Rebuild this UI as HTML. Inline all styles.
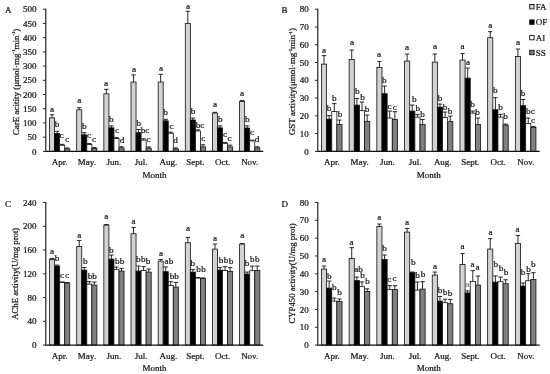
<!DOCTYPE html>
<html><head><meta charset="utf-8"><title>Figure</title>
<style>html,body{margin:0;padding:0;background:#fff}svg{display:block}</style>
</head><body>
<svg width="550" height="374" viewBox="0 0 550 374" font-family='"Liberation Serif", serif' font-size="9.0" fill="#111">
<style>text{stroke:#111;stroke-width:0.22px}</style>
<rect width="550" height="374" fill="#fff"/>
<g text-anchor="middle" font-size="9.2"><text x="52.00" y="111.90">a</text>
<text x="57.00" y="127.30">b</text>
<text x="61.60" y="137.50">c</text>
<text x="67.00" y="141.90">c</text>
<text x="79.40" y="102.90">a</text>
<text x="84.40" y="128.90">b</text>
<text x="89.00" y="137.90">c</text>
<text x="94.00" y="142.30">c</text>
<text x="106.00" y="86.30">a</text>
<text x="111.40" y="121.50">b</text>
<text x="117.00" y="133.30">c</text>
<text x="122.00" y="143.30">d</text>
<text x="134.00" y="71.90">a</text>
<text x="138.80" y="126.20">b</text>
<text x="145.00" y="132.50">bc</text>
<text x="148.60" y="141.90">c</text>
<text x="161.00" y="70.70">a</text>
<text x="165.60" y="114.70">b</text>
<text x="171.60" y="128.90">c</text>
<text x="175.60" y="142.50">d</text>
<text x="188.00" y="8.90">a</text>
<text x="193.00" y="114.30">b</text>
<text x="200.00" y="127.90">bc</text>
<text x="203.30" y="140.90">c</text>
<text x="215.00" y="106.90">a</text>
<text x="220.40" y="121.50">b</text>
<text x="225.00" y="136.90">c</text>
<text x="229.60" y="140.90">c</text>
<text x="242.00" y="95.70">a</text>
<text x="247.40" y="121.90">b</text>
<text x="252.00" y="135.40">c</text>
<text x="257.00" y="141.90">d</text></g>
<g stroke="#111" stroke-width="0.8"><rect x="49.55" y="117.85" width="5.05" height="33.55" fill="#d2d2d2"/>
<rect x="54.60" y="133.45" width="5.05" height="17.95" fill="#000000"/>
<rect x="59.65" y="145.30" width="5.05" height="6.10" fill="#ffffff"/>
<rect x="64.70" y="148.90" width="5.05" height="2.50" fill="#808080"/>
<rect x="76.70" y="109.85" width="5.05" height="41.55" fill="#d2d2d2"/>
<rect x="81.75" y="134.85" width="5.05" height="16.55" fill="#000000"/>
<rect x="86.80" y="144.50" width="5.05" height="6.90" fill="#ffffff"/>
<rect x="91.85" y="148.50" width="5.05" height="2.90" fill="#808080"/>
<rect x="103.85" y="93.85" width="5.05" height="57.55" fill="#d2d2d2"/>
<rect x="108.90" y="127.85" width="5.05" height="23.55" fill="#000000"/>
<rect x="113.95" y="138.50" width="5.05" height="12.90" fill="#ffffff"/>
<rect x="119.00" y="147.90" width="5.05" height="3.50" fill="#808080"/>
<rect x="131.00" y="82.05" width="5.05" height="69.35" fill="#d2d2d2"/>
<rect x="136.05" y="132.65" width="5.05" height="18.75" fill="#000000"/>
<rect x="141.10" y="140.10" width="5.05" height="11.30" fill="#ffffff"/>
<rect x="146.15" y="148.10" width="5.05" height="3.30" fill="#808080"/>
<rect x="158.15" y="82.05" width="5.05" height="69.35" fill="#d2d2d2"/>
<rect x="163.20" y="120.85" width="5.05" height="30.55" fill="#000000"/>
<rect x="168.25" y="133.30" width="5.05" height="18.10" fill="#ffffff"/>
<rect x="173.30" y="148.90" width="5.05" height="2.50" fill="#808080"/>
<rect x="185.30" y="23.45" width="5.05" height="127.95" fill="#d2d2d2"/>
<rect x="190.35" y="120.05" width="5.05" height="31.35" fill="#000000"/>
<rect x="195.40" y="131.00" width="5.05" height="20.40" fill="#ffffff"/>
<rect x="200.45" y="146.90" width="5.05" height="4.50" fill="#808080"/>
<rect x="212.45" y="113.05" width="5.05" height="38.35" fill="#d2d2d2"/>
<rect x="217.50" y="127.85" width="5.05" height="23.55" fill="#000000"/>
<rect x="222.55" y="143.30" width="5.05" height="8.10" fill="#ffffff"/>
<rect x="227.60" y="146.90" width="5.05" height="4.50" fill="#808080"/>
<rect x="239.60" y="101.45" width="5.05" height="49.95" fill="#d2d2d2"/>
<rect x="244.65" y="128.05" width="5.05" height="23.35" fill="#000000"/>
<rect x="249.70" y="140.90" width="5.05" height="10.50" fill="#ffffff"/>
<rect x="254.75" y="147.90" width="5.05" height="3.50" fill="#808080"/></g>
<g stroke="#111" stroke-width="0.9" fill="none"><path d="M52.07 117.85V114.70M49.87 114.70H54.27"/>
<path d="M57.12 133.45V131.30M54.92 131.30H59.32"/>
<path d="M62.17 145.30V144.35M59.97 144.35H64.38"/>
<path d="M67.22 148.90V147.95M65.02 147.95H69.42"/>
<path d="M79.22 109.85V107.70M77.02 107.70H81.42"/>
<path d="M84.27 134.85V132.70M82.07 132.70H86.47"/>
<path d="M89.32 144.50V143.55M87.12 143.55H91.52"/>
<path d="M94.38 148.50V147.55M92.17 147.55H96.58"/>
<path d="M106.38 93.85V89.30M104.17 89.30H108.58"/>
<path d="M111.42 127.85V125.90M109.22 125.90H113.62"/>
<path d="M116.47 138.50V137.55M114.27 137.55H118.67"/>
<path d="M121.53 147.90V146.75M119.33 146.75H123.73"/>
<path d="M133.53 82.05V74.90M131.33 74.90H135.72"/>
<path d="M138.58 132.65V129.50M136.38 129.50H140.78"/>
<path d="M143.62 140.10V138.75M141.43 138.75H145.82"/>
<path d="M148.68 148.10V146.95M146.48 146.95H150.88"/>
<path d="M160.67 82.05V74.30M158.47 74.30H162.87"/>
<path d="M165.72 120.85V119.30M163.53 119.30H167.92"/>
<path d="M170.77 133.30V132.15M168.57 132.15H172.97"/>
<path d="M175.82 148.90V147.95M173.62 147.95H178.02"/>
<path d="M187.83 23.45V11.30M185.63 11.30H190.03"/>
<path d="M192.88 120.05V118.10M190.68 118.10H195.08"/>
<path d="M197.93 131.00V129.85M195.73 129.85H200.12"/>
<path d="M202.98 146.90V144.75M200.78 144.75H205.18"/>
<path d="M214.97 113.05V112.30M212.78 112.30H217.17"/>
<path d="M220.03 127.85V125.90M217.83 125.90H222.22"/>
<path d="M225.07 143.30V142.55M222.88 142.55H227.27"/>
<path d="M230.12 146.90V145.15M227.93 145.15H232.32"/>
<path d="M242.12 101.45V100.50M239.92 100.50H244.32"/>
<path d="M247.17 128.05V125.90M244.97 125.90H249.37"/>
<path d="M252.22 140.90V140.15M250.02 140.15H254.42"/>
<path d="M257.27 147.90V146.75M255.07 146.75H259.47"/><path d="M45.80 8.80V151.40H263.30" stroke-width="1.1" fill="none"/>
<path d="M43.00 151.40H45.80"/>
<path d="M43.00 137.18H45.80"/>
<path d="M43.00 122.96H45.80"/>
<path d="M43.00 108.74H45.80"/>
<path d="M43.00 94.52H45.80"/>
<path d="M43.00 80.30H45.80"/>
<path d="M43.00 66.08H45.80"/>
<path d="M43.00 51.86H45.80"/>
<path d="M43.00 37.64H45.80"/>
<path d="M43.00 23.42H45.80"/>
<path d="M43.00 9.20H45.80"/></g>
<g text-anchor="end"><text x="36.50" y="154.55">0</text>
<text x="36.50" y="140.33">50</text>
<text x="36.50" y="126.11">100</text>
<text x="36.50" y="111.89">150</text>
<text x="36.50" y="97.67">200</text>
<text x="36.50" y="83.45">250</text>
<text x="36.50" y="69.23">300</text>
<text x="36.50" y="55.01">350</text>
<text x="36.50" y="40.79">400</text>
<text x="36.50" y="26.57">450</text>
<text x="36.50" y="12.35">500</text></g>
<g text-anchor="middle"><text x="59.67" y="165.40">Apr.</text>
<text x="86.82" y="165.40">May.</text>
<text x="113.97" y="165.40">Jun.</text>
<text x="141.12" y="165.40">Jul.</text>
<text x="168.27" y="165.40">Aug.</text>
<text x="195.43" y="165.40">Sept.</text>
<text x="222.57" y="165.40">Oct.</text>
<text x="249.72" y="165.40">Nov.</text>
<text x="154.55" y="177.90">Month</text></g>
<text x="4.90" y="12.80">A</text>
<g text-anchor="middle" font-size="9.2"><text x="324.00" y="53.30">a</text>
<text x="329.00" y="110.90">b</text>
<text x="334.40" y="100.90">b</text>
<text x="340.00" y="116.50">b</text>
<text x="352.00" y="45.30">a</text>
<text x="357.40" y="94.30">b</text>
<text x="362.60" y="99.90">b</text>
<text x="367.00" y="111.90">b</text>
<text x="379.00" y="56.90">a</text>
<text x="384.40" y="83.40">b</text>
<text x="389.60" y="108.90">c</text>
<text x="394.90" y="110.40">c</text>
<text x="407.00" y="49.70">a</text>
<text x="414.20" y="101.70">b</text>
<text x="417.90" y="110.80">b</text>
<text x="422.60" y="116.60">b</text>
<text x="435.00" y="48.70">a</text>
<text x="440.00" y="100.90">b</text>
<text x="445.00" y="109.50">b</text>
<text x="450.00" y="113.90">b</text>
<text x="462.60" y="48.70">a</text>
<text x="468.00" y="65.30">a</text>
<text x="472.60" y="106.90">b</text>
<text x="477.60" y="114.90">b</text>
<text x="490.40" y="27.70">a</text>
<text x="495.40" y="93.30">b</text>
<text x="500.60" y="109.90">b</text>
<text x="505.60" y="118.90">b</text>
<text x="518.00" y="44.70">a</text>
<text x="523.00" y="95.90">b</text>
<text x="530.40" y="113.90">bc</text>
<text x="533.00" y="122.50">c</text></g>
<g stroke="#111" stroke-width="0.8"><rect x="321.45" y="64.10" width="5.15" height="87.30" fill="#d2d2d2"/>
<rect x="326.60" y="119.10" width="5.15" height="32.30" fill="#000000"/>
<rect x="331.75" y="111.50" width="5.15" height="39.90" fill="#ffffff"/>
<rect x="336.90" y="124.50" width="5.15" height="26.90" fill="#808080"/>
<rect x="349.15" y="59.50" width="5.15" height="91.90" fill="#d2d2d2"/>
<rect x="354.30" y="105.10" width="5.15" height="46.30" fill="#000000"/>
<rect x="359.45" y="110.70" width="5.15" height="40.70" fill="#ffffff"/>
<rect x="364.60" y="121.50" width="5.15" height="29.90" fill="#808080"/>
<rect x="376.85" y="67.50" width="5.15" height="83.90" fill="#d2d2d2"/>
<rect x="382.00" y="93.70" width="5.15" height="57.70" fill="#000000"/>
<rect x="387.15" y="118.10" width="5.15" height="33.30" fill="#ffffff"/>
<rect x="392.30" y="119.50" width="5.15" height="31.90" fill="#808080"/>
<rect x="404.55" y="61.10" width="5.15" height="90.30" fill="#d2d2d2"/>
<rect x="409.70" y="111.10" width="5.15" height="40.30" fill="#000000"/>
<rect x="414.85" y="117.10" width="5.15" height="34.30" fill="#ffffff"/>
<rect x="420.00" y="124.50" width="5.15" height="26.90" fill="#808080"/>
<rect x="432.25" y="62.10" width="5.15" height="89.30" fill="#d2d2d2"/>
<rect x="437.40" y="107.10" width="5.15" height="44.30" fill="#000000"/>
<rect x="442.55" y="117.50" width="5.15" height="33.90" fill="#ffffff"/>
<rect x="447.70" y="121.50" width="5.15" height="29.90" fill="#808080"/>
<rect x="459.95" y="60.10" width="5.15" height="91.30" fill="#d2d2d2"/>
<rect x="465.10" y="78.10" width="5.15" height="73.30" fill="#000000"/>
<rect x="470.25" y="113.10" width="5.15" height="38.30" fill="#ffffff"/>
<rect x="475.40" y="124.50" width="5.15" height="26.90" fill="#808080"/>
<rect x="487.65" y="37.70" width="5.15" height="113.70" fill="#d2d2d2"/>
<rect x="492.80" y="109.70" width="5.15" height="41.70" fill="#000000"/>
<rect x="497.95" y="117.10" width="5.15" height="34.30" fill="#ffffff"/>
<rect x="503.10" y="125.10" width="5.15" height="26.30" fill="#808080"/>
<rect x="515.35" y="56.50" width="5.15" height="94.90" fill="#d2d2d2"/>
<rect x="520.50" y="105.70" width="5.15" height="45.70" fill="#000000"/>
<rect x="525.65" y="123.50" width="5.15" height="27.90" fill="#ffffff"/>
<rect x="530.80" y="127.50" width="5.15" height="23.90" fill="#808080"/></g>
<g stroke="#111" stroke-width="0.9" fill="none"><path d="M324.02 64.10V55.65M321.82 55.65H326.22"/>
<path d="M329.17 119.10V115.65M326.97 115.65H331.37"/>
<path d="M334.32 111.50V103.65M332.12 103.65H336.52"/>
<path d="M339.47 124.50V120.05M337.27 120.05H341.67"/>
<path d="M351.72 59.50V50.05M349.52 50.05H353.92"/>
<path d="M356.87 105.10V98.45M354.67 98.45H359.07"/>
<path d="M362.02 110.70V102.05M359.82 102.05H364.22"/>
<path d="M367.17 121.50V115.05M364.97 115.05H369.37"/>
<path d="M379.42 67.50V61.45M377.22 61.45H381.62"/>
<path d="M384.57 93.70V86.05M382.37 86.05H386.77"/>
<path d="M389.72 118.10V111.05M387.52 111.05H391.92"/>
<path d="M394.87 119.50V111.65M392.67 111.65H397.07"/>
<path d="M407.12 61.10V54.05M404.92 54.05H409.32"/>
<path d="M412.27 111.10V105.05M410.07 105.05H414.47"/>
<path d="M417.42 117.10V114.45M415.22 114.45H419.62"/>
<path d="M422.57 124.50V119.45M420.37 119.45H424.77"/>
<path d="M434.82 62.10V54.05M432.62 54.05H437.02"/>
<path d="M439.97 107.10V104.05M437.77 104.05H442.17"/>
<path d="M445.12 117.50V112.05M442.93 112.05H447.32"/>
<path d="M450.27 121.50V116.05M448.07 116.05H452.47"/>
<path d="M462.52 60.10V53.65M460.32 53.65H464.72"/>
<path d="M467.67 78.10V68.05M465.47 68.05H469.87"/>
<path d="M472.82 113.10V111.05M470.62 111.05H475.02"/>
<path d="M477.97 124.50V118.05M475.77 118.05H480.17"/>
<path d="M490.22 37.70V31.65M488.02 31.65H492.42"/>
<path d="M495.37 109.70V97.65M493.17 97.65H497.57"/>
<path d="M500.52 117.10V114.35M498.32 114.35H502.72"/>
<path d="M505.67 125.10V124.05M503.47 124.05H507.87"/>
<path d="M517.93 56.50V49.05M515.73 49.05H520.13"/>
<path d="M523.08 105.70V99.45M520.88 99.45H525.28"/>
<path d="M528.23 123.50V118.05M526.02 118.05H530.43"/>
<path d="M533.38 127.50V126.45M531.18 126.45H535.58"/><path d="M317.80 8.80V151.40H539.70" stroke-width="1.1" fill="none"/>
<path d="M315.00 151.40H317.80"/>
<path d="M315.00 133.62H317.80"/>
<path d="M315.00 115.85H317.80"/>
<path d="M315.00 98.07H317.80"/>
<path d="M315.00 80.30H317.80"/>
<path d="M315.00 62.52H317.80"/>
<path d="M315.00 44.75H317.80"/>
<path d="M315.00 26.97H317.80"/>
<path d="M315.00 9.20H317.80"/></g>
<g text-anchor="end"><text x="308.70" y="154.55">0</text>
<text x="308.70" y="136.78">10</text>
<text x="308.70" y="119.00">20</text>
<text x="308.70" y="101.22">30</text>
<text x="308.70" y="83.45">40</text>
<text x="308.70" y="65.67">50</text>
<text x="308.70" y="47.90">60</text>
<text x="308.70" y="30.12">70</text>
<text x="308.70" y="12.35">80</text></g>
<g text-anchor="middle"><text x="331.95" y="165.40">Apr.</text>
<text x="359.65" y="165.40">May.</text>
<text x="387.35" y="165.40">Jun.</text>
<text x="415.05" y="165.40">Jul.</text>
<text x="442.75" y="165.40">Aug.</text>
<text x="470.45" y="165.40">Sept.</text>
<text x="498.15" y="165.40">Oct.</text>
<text x="525.85" y="165.40">Nov.</text>
<text x="428.75" y="177.90">Month</text></g>
<text x="281.50" y="13.10">B</text>
<g text-anchor="middle" font-size="9.2"><text x="52.00" y="253.70">a</text>
<text x="57.00" y="260.55">b</text>
<text x="62.00" y="277.55">c</text>
<text x="67.00" y="277.55">c</text>
<text x="79.40" y="238.30">a</text>
<text x="85.40" y="263.55">b</text>
<text x="90.00" y="278.55">b</text>
<text x="94.60" y="278.55">b</text>
<text x="106.40" y="219.30">a</text>
<text x="111.40" y="252.95">b</text>
<text x="117.30" y="264.45">b</text>
<text x="122.10" y="264.45">b</text>
<text x="133.60" y="224.30">a</text>
<text x="138.40" y="261.95">b</text>
<text x="143.40" y="261.95">b</text>
<text x="148.00" y="263.55">b</text>
<text x="161.00" y="256.20">a</text>
<text x="168.90" y="263.55">ab</text>
<text x="172.00" y="278.55">b</text>
<text x="176.60" y="278.55">b</text>
<text x="188.00" y="231.30">a</text>
<text x="192.80" y="265.55">b</text>
<text x="198.60" y="271.95">b</text>
<text x="203.60" y="271.95">b</text>
<text x="215.00" y="241.30">a</text>
<text x="221.00" y="262.75">b</text>
<text x="226.10" y="263.15">b</text>
<text x="231.10" y="263.95">b</text>
<text x="242.40" y="238.30">a</text>
<text x="247.00" y="265.55">b</text>
<text x="252.40" y="262.15">b</text>
<text x="257.40" y="262.15">b</text></g>
<g stroke="#111" stroke-width="0.8"><rect x="49.55" y="259.50" width="5.05" height="85.60" fill="#d2d2d2"/>
<rect x="54.60" y="266.10" width="5.05" height="79.00" fill="#000000"/>
<rect x="59.65" y="282.50" width="5.05" height="62.60" fill="#ffffff"/>
<rect x="64.70" y="283.10" width="5.05" height="62.00" fill="#808080"/>
<rect x="76.70" y="246.50" width="5.05" height="98.60" fill="#d2d2d2"/>
<rect x="81.75" y="270.10" width="5.05" height="75.00" fill="#000000"/>
<rect x="86.80" y="284.10" width="5.05" height="61.00" fill="#ffffff"/>
<rect x="91.85" y="285.10" width="5.05" height="60.00" fill="#808080"/>
<rect x="103.85" y="225.10" width="5.05" height="120.00" fill="#d2d2d2"/>
<rect x="108.90" y="259.10" width="5.05" height="86.00" fill="#000000"/>
<rect x="113.95" y="269.70" width="5.05" height="75.40" fill="#ffffff"/>
<rect x="119.00" y="271.10" width="5.05" height="74.00" fill="#808080"/>
<rect x="131.00" y="233.70" width="5.05" height="111.40" fill="#d2d2d2"/>
<rect x="136.05" y="271.10" width="5.05" height="74.00" fill="#000000"/>
<rect x="141.10" y="270.50" width="5.05" height="74.60" fill="#ffffff"/>
<rect x="146.15" y="272.10" width="5.05" height="73.00" fill="#808080"/>
<rect x="158.15" y="261.10" width="5.05" height="84.00" fill="#d2d2d2"/>
<rect x="163.20" y="271.70" width="5.05" height="73.40" fill="#000000"/>
<rect x="168.25" y="285.50" width="5.05" height="59.60" fill="#ffffff"/>
<rect x="173.30" y="287.10" width="5.05" height="58.00" fill="#808080"/>
<rect x="185.30" y="242.70" width="5.05" height="102.40" fill="#d2d2d2"/>
<rect x="190.35" y="272.10" width="5.05" height="73.00" fill="#000000"/>
<rect x="195.40" y="278.10" width="5.05" height="67.00" fill="#ffffff"/>
<rect x="200.45" y="278.50" width="5.05" height="66.60" fill="#808080"/>
<rect x="212.45" y="249.10" width="5.05" height="96.00" fill="#d2d2d2"/>
<rect x="217.50" y="270.10" width="5.05" height="75.00" fill="#000000"/>
<rect x="222.55" y="270.50" width="5.05" height="74.60" fill="#ffffff"/>
<rect x="227.60" y="271.50" width="5.05" height="73.60" fill="#808080"/>
<rect x="239.60" y="244.10" width="5.05" height="101.00" fill="#d2d2d2"/>
<rect x="244.65" y="274.10" width="5.05" height="71.00" fill="#000000"/>
<rect x="249.70" y="270.70" width="5.05" height="74.40" fill="#ffffff"/>
<rect x="254.75" y="270.50" width="5.05" height="74.60" fill="#808080"/></g>
<g stroke="#111" stroke-width="0.9" fill="none"><path d="M52.07 259.50V258.45M49.87 258.45H54.27"/>
<path d="M57.12 266.10V265.05M54.92 265.05H59.32"/>
<path d="M62.17 282.50V281.95M59.97 281.95H64.38"/>
<path d="M67.22 283.10V282.55M65.02 282.55H69.42"/>
<path d="M79.22 246.50V240.45M77.02 240.45H81.42"/>
<path d="M84.27 270.10V267.45M82.07 267.45H86.47"/>
<path d="M89.32 284.10V281.65M87.12 281.65H91.52"/>
<path d="M94.38 285.10V282.05M92.17 282.05H96.58"/>
<path d="M106.38 225.10V224.55M104.17 224.55H108.58"/>
<path d="M111.42 259.10V255.05M109.22 255.05H113.62"/>
<path d="M116.47 269.70V267.05M114.27 267.05H118.67"/>
<path d="M121.53 271.10V268.45M119.33 268.45H123.73"/>
<path d="M133.53 233.70V227.45M131.33 227.45H135.72"/>
<path d="M138.58 271.10V266.05M136.38 266.05H140.78"/>
<path d="M143.62 270.50V266.65M141.43 266.65H145.82"/>
<path d="M148.68 272.10V269.05M146.48 269.05H150.88"/>
<path d="M160.67 261.10V259.55M158.47 259.55H162.87"/>
<path d="M165.72 271.70V266.95M163.53 266.95H167.92"/>
<path d="M170.77 285.50V281.65M168.57 281.65H172.97"/>
<path d="M175.82 287.10V282.45M173.62 282.45H178.02"/>
<path d="M187.83 242.70V237.45M185.63 237.45H190.03"/>
<path d="M192.88 272.10V269.45M190.68 269.45H195.08"/>
<path d="M197.93 278.10V277.55M195.73 277.55H200.12"/>
<path d="M202.98 278.50V277.95M200.78 277.95H205.18"/>
<path d="M214.97 249.10V244.05M212.78 244.05H217.17"/>
<path d="M220.03 270.10V267.65M217.83 267.65H222.22"/>
<path d="M225.07 270.50V266.65M222.88 266.65H227.27"/>
<path d="M230.12 271.50V267.65M227.93 267.65H232.32"/>
<path d="M242.12 244.10V243.45M239.92 243.45H244.32"/>
<path d="M247.17 274.10V272.05M244.97 272.05H249.37"/>
<path d="M252.22 270.70V266.05M250.02 266.05H254.42"/>
<path d="M257.27 270.50V266.05M255.07 266.05H259.47"/><path d="M45.80 202.10V345.10H263.30" stroke-width="1.1" fill="none"/>
<path d="M43.00 345.10H45.80"/>
<path d="M43.00 321.33H45.80"/>
<path d="M43.00 297.57H45.80"/>
<path d="M43.00 273.80H45.80"/>
<path d="M43.00 250.03H45.80"/>
<path d="M43.00 226.27H45.80"/>
<path d="M43.00 202.50H45.80"/></g>
<g text-anchor="end"><text x="36.50" y="348.25">0</text>
<text x="36.50" y="324.48">40</text>
<text x="36.50" y="300.72">80</text>
<text x="36.50" y="276.95">120</text>
<text x="36.50" y="253.18">160</text>
<text x="36.50" y="229.42">200</text>
<text x="36.50" y="205.65">240</text></g>
<g text-anchor="middle"><text x="59.67" y="358.50">Apr.</text>
<text x="86.82" y="358.50">May.</text>
<text x="113.97" y="358.50">Jun.</text>
<text x="141.12" y="358.50">Jul.</text>
<text x="168.27" y="358.50">Aug.</text>
<text x="195.43" y="358.50">Sept.</text>
<text x="222.57" y="358.50">Oct.</text>
<text x="249.72" y="358.50">Nov.</text>
<text x="154.55" y="370.80">Month</text></g>
<text x="5.00" y="206.70">C</text>
<g text-anchor="middle" font-size="9.2"><text x="324.00" y="262.30">a</text>
<text x="329.40" y="279.10">b</text>
<text x="334.40" y="289.70">b</text>
<text x="339.60" y="295.10">b</text>
<text x="351.60" y="244.90">a</text>
<text x="358.60" y="271.70">ab</text>
<text x="362.60" y="278.10">b</text>
<text x="367.60" y="283.90">b</text>
<text x="379.40" y="220.30">a</text>
<text x="384.60" y="251.10">b</text>
<text x="389.40" y="281.60">c</text>
<text x="394.60" y="280.70">c</text>
<text x="407.00" y="225.30">a</text>
<text x="413.40" y="265.10">b</text>
<text x="417.60" y="278.10">b</text>
<text x="423.00" y="277.30">b</text>
<text x="435.00" y="268.90">a</text>
<text x="440.00" y="292.70">b</text>
<text x="445.00" y="294.50">b</text>
<text x="450.00" y="295.60">b</text>
<text x="462.60" y="248.90">a</text>
<text x="467.60" y="286.70" fill="#888" style="stroke:#888">a</text>
<text x="472.60" y="266.70">a</text>
<text x="477.60" y="270.10">a</text>
<text x="490.60" y="235.30">a</text>
<text x="495.80" y="267.20">b</text>
<text x="501.00" y="271.10">b</text>
<text x="506.00" y="275.30">b</text>
<text x="517.60" y="231.70">a</text>
<text x="523.00" y="275.10">b</text>
<text x="528.60" y="271.80">b</text>
<text x="533.30" y="267.20">b</text></g>
<g stroke="#111" stroke-width="0.8"><rect x="321.45" y="269.10" width="5.15" height="76.00" fill="#d2d2d2"/>
<rect x="326.60" y="288.10" width="5.15" height="57.00" fill="#000000"/>
<rect x="331.75" y="301.10" width="5.15" height="44.00" fill="#ffffff"/>
<rect x="336.90" y="301.50" width="5.15" height="43.60" fill="#808080"/>
<rect x="349.15" y="258.50" width="5.15" height="86.60" fill="#d2d2d2"/>
<rect x="354.30" y="280.60" width="5.15" height="64.50" fill="#000000"/>
<rect x="359.45" y="286.70" width="5.15" height="58.40" fill="#ffffff"/>
<rect x="364.60" y="291.50" width="5.15" height="53.60" fill="#808080"/>
<rect x="376.85" y="226.50" width="5.15" height="118.60" fill="#d2d2d2"/>
<rect x="382.00" y="259.50" width="5.15" height="85.60" fill="#000000"/>
<rect x="387.15" y="289.50" width="5.15" height="55.60" fill="#ffffff"/>
<rect x="392.30" y="289.50" width="5.15" height="55.60" fill="#808080"/>
<rect x="404.55" y="232.10" width="5.15" height="113.00" fill="#d2d2d2"/>
<rect x="409.70" y="272.70" width="5.15" height="72.40" fill="#000000"/>
<rect x="414.85" y="290.10" width="5.15" height="55.00" fill="#ffffff"/>
<rect x="420.00" y="289.10" width="5.15" height="56.00" fill="#808080"/>
<rect x="432.25" y="275.10" width="5.15" height="70.00" fill="#d2d2d2"/>
<rect x="437.40" y="301.10" width="5.15" height="44.00" fill="#000000"/>
<rect x="442.55" y="302.70" width="5.15" height="42.40" fill="#ffffff"/>
<rect x="447.70" y="303.70" width="5.15" height="41.40" fill="#808080"/>
<rect x="459.95" y="264.50" width="5.15" height="80.60" fill="#d2d2d2"/>
<rect x="465.10" y="292.90" width="5.15" height="52.20" fill="#000000"/>
<rect x="470.25" y="281.50" width="5.15" height="63.60" fill="#ffffff"/>
<rect x="475.40" y="285.10" width="5.15" height="60.00" fill="#808080"/>
<rect x="487.65" y="249.10" width="5.15" height="96.00" fill="#d2d2d2"/>
<rect x="492.80" y="282.10" width="5.15" height="63.00" fill="#000000"/>
<rect x="497.95" y="281.70" width="5.15" height="63.40" fill="#ffffff"/>
<rect x="503.10" y="283.70" width="5.15" height="61.40" fill="#808080"/>
<rect x="515.35" y="243.50" width="5.15" height="101.60" fill="#d2d2d2"/>
<rect x="520.50" y="286.10" width="5.15" height="59.00" fill="#000000"/>
<rect x="525.65" y="280.70" width="5.15" height="64.40" fill="#ffffff"/>
<rect x="530.80" y="279.50" width="5.15" height="65.60" fill="#808080"/></g>
<g stroke="#111" stroke-width="0.9" fill="none"><path d="M324.02 269.10V266.05M321.82 266.05H326.22"/>
<path d="M329.17 288.10V281.05M326.97 281.05H331.37"/>
<path d="M334.32 301.10V298.05M332.12 298.05H336.52"/>
<path d="M339.47 301.50V299.05M337.27 299.05H341.67"/>
<path d="M351.72 258.50V247.65M349.52 247.65H353.92"/>
<path d="M356.87 280.60V277.05M354.67 277.05H359.07"/>
<path d="M362.02 286.70V281.95M359.82 281.95H364.22"/>
<path d="M367.17 291.50V288.85M364.97 288.85H369.37"/>
<path d="M379.42 226.50V224.05M377.22 224.05H381.62"/>
<path d="M384.57 259.50V255.05M382.37 255.05H386.77"/>
<path d="M389.72 289.50V285.65M387.52 285.65H391.92"/>
<path d="M394.87 289.50V285.65M392.67 285.65H397.07"/>
<path d="M407.12 232.10V228.45M404.92 228.45H409.32"/>
<path d="M412.27 272.70V272.05M410.07 272.05H414.47"/>
<path d="M417.42 290.10V282.05M415.22 282.05H419.62"/>
<path d="M422.57 289.10V281.65M420.37 281.65H424.77"/>
<path d="M434.82 275.10V272.05M432.62 272.05H437.02"/>
<path d="M439.97 301.10V296.45M437.77 296.45H442.17"/>
<path d="M445.12 302.70V299.25M442.93 299.25H447.32"/>
<path d="M450.27 303.70V299.45M448.07 299.45H452.47"/>
<path d="M462.52 264.50V253.65M460.32 253.65H464.72"/>
<path d="M467.67 292.90V290.85M465.47 290.85H469.87"/>
<path d="M472.82 281.50V270.65M470.62 270.65H475.02"/>
<path d="M477.97 285.10V276.05M475.77 276.05H480.17"/>
<path d="M490.22 249.10V238.65M488.02 238.65H492.42"/>
<path d="M495.37 282.10V275.95M493.17 275.95H497.57"/>
<path d="M500.52 281.70V277.05M498.32 277.05H502.72"/>
<path d="M505.67 283.70V279.75M503.47 279.75H507.87"/>
<path d="M517.93 243.50V235.45M515.73 235.45H520.13"/>
<path d="M523.08 286.10V283.05M520.88 283.05H525.28"/>
<path d="M528.23 280.70V273.65M526.02 273.65H530.43"/>
<path d="M533.38 279.50V272.65M531.18 272.65H535.58"/><path d="M317.80 202.10V345.10H539.70" stroke-width="1.1" fill="none"/>
<path d="M315.00 345.10H317.80"/>
<path d="M315.00 327.28H317.80"/>
<path d="M315.00 309.45H317.80"/>
<path d="M315.00 291.62H317.80"/>
<path d="M315.00 273.80H317.80"/>
<path d="M315.00 255.98H317.80"/>
<path d="M315.00 238.15H317.80"/>
<path d="M315.00 220.32H317.80"/>
<path d="M315.00 202.50H317.80"/></g>
<g text-anchor="end"><text x="308.70" y="348.25">0</text>
<text x="308.70" y="330.43">10</text>
<text x="308.70" y="312.60">20</text>
<text x="308.70" y="294.77">30</text>
<text x="308.70" y="276.95">40</text>
<text x="308.70" y="259.12">50</text>
<text x="308.70" y="241.30">60</text>
<text x="308.70" y="223.47">70</text>
<text x="308.70" y="205.65">80</text></g>
<g text-anchor="middle"><text x="331.95" y="358.50">Apr.</text>
<text x="359.65" y="358.50">May.</text>
<text x="387.35" y="358.50">Jun.</text>
<text x="415.05" y="358.50">Jul.</text>
<text x="442.75" y="358.50">Aug.</text>
<text x="470.45" y="358.50">Sept.</text>
<text x="498.15" y="358.50">Oct.</text>
<text x="525.85" y="358.50">Nov.</text>
<text x="428.75" y="370.80">Month</text></g>
<text x="281.50" y="206.90">D</text>
<text transform="translate(18.6 135.2) rotate(-90)">CarE acitity (μmol·mg<tspan dy="-3.4" font-size="4.6">-1</tspan><tspan dy="3.4">min</tspan><tspan dy="-3.4" font-size="4.6">-1</tspan><tspan dy="3.4">)</tspan></text>
<text transform="translate(295.0 135.2) rotate(-90)">GST activity(μmol·mg<tspan dy="-3.4" font-size="4.6">-1</tspan><tspan dy="3.4">min</tspan><tspan dy="-3.4" font-size="4.6">-1</tspan><tspan dy="3.4">)</tspan></text>
<text transform="translate(18.1 319.8) rotate(-90)" font-size="8.72">AChE activity(U/mg prot)</text>
<text transform="translate(294.6 323.5) rotate(-90)" font-size="8.72">CYP450 activity(U/mg prot)</text>
<rect x="529.7" y="4.50" width="4.4" height="4.4" fill="#d2d2d2" stroke="#111" stroke-width="0.9"/>
<text x="535.7" y="9.80">FA</text>
<rect x="529.7" y="19.90" width="4.4" height="4.4" fill="#000000" stroke="#111" stroke-width="0.9"/>
<text x="535.7" y="25.20">OF</text>
<rect x="529.7" y="35.40" width="4.4" height="4.4" fill="#ffffff" stroke="#111" stroke-width="0.9"/>
<text x="535.7" y="40.70">AI</text>
<rect x="529.7" y="50.30" width="4.4" height="4.4" fill="#808080" stroke="#111" stroke-width="0.9"/>
<text x="535.7" y="55.60">SS</text>
</svg>
</body></html>
